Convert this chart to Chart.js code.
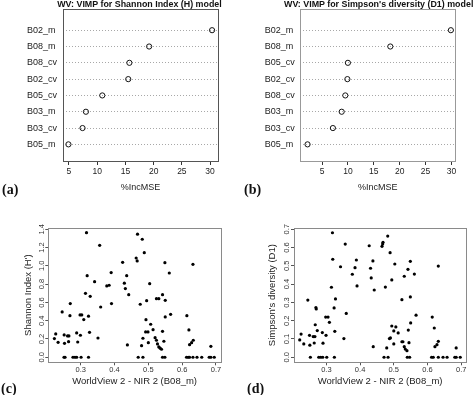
<!DOCTYPE html>
<html>
<head>
<meta charset="utf-8">
<script src="https://cdn.jsdelivr.net/npm/chart.js@4.4.1/dist/chart.umd.min.js"></script>
<style>
  html, body { margin: 0; padding: 0; background: #fff; }
  #wrap { position: relative; width: 474px; height: 395px; overflow: hidden; background: #fff; }
  canvas { position: absolute; }
  .ttl { position: absolute; font: bold 8.9px "Liberation Sans", Arial, sans-serif; color: #111; white-space: nowrap; line-height: 10px; transform: translateX(-50%); }
  .pl { position: absolute; font: bold 14px "Liberation Serif", "Times New Roman", serif; color: #111; line-height: 16px; }
</style>
</head>
<body>
<div id="wrap">
  <canvas id="ca" width="237" height="200" style="left:0;top:0;width:237px;height:200px"></canvas>
  <canvas id="cb" width="237" height="200" style="left:237px;top:0;width:237px;height:200px"></canvas>
  <canvas id="cc" width="237" height="195" style="left:0;top:200px;width:237px;height:195px"></canvas>
  <canvas id="cd" width="237" height="195" style="left:237px;top:200px;width:237px;height:195px"></canvas>
  <div class="ttl" style="left:139.5px;top:-1px">WV: VIMP for Shannon Index (H) model</div>
  <div class="ttl" style="left:378.7px;top:-1px">WV: VIMP for Simpson's diversity (D1) model</div>
  <div class="pl" style="left:2px;top:182px">(a)</div>
  <div class="pl" style="left:244px;top:182px">(b)</div>
  <div class="pl" style="left:1px;top:381px">(c)</div>
  <div class="pl" style="left:247px;top:381px">(d)</div>
</div>
<script>
// ---- Data ----
const varsShannon = ['B02_m','B08_m','B08_cv','B02_cv','B05_cv','B03_m','B03_cv','B05_m'];
const incMSEShannon = [30.35, 19.2, 15.7, 15.5, 10.9, 8.0, 7.4, 4.9];
const varsSimpson = ['B02_m','B08_m','B05_cv','B02_cv','B08_cv','B03_m','B03_cv','B05_m'];
const incMSESimpson = [29.9, 18.2, 10.0, 9.9, 9.5, 8.8, 7.1, 2.2];
const incMSETicks = [5, 10, 15, 20, 25, 30];

const shannonX = [0.317,0.356,0.424,0.319,0.341,0.390,0.436,0.429,0.377,0.384,0.432,0.442,0.314,0.328,0.269,0.391,0.359,0.245,0.268,0.298,0.303,0.323,0.309,0.326,0.226,0.222,0.233,0.251,0.261,0.265,0.252,0.264,0.288,0.299,0.291,0.351,0.438,
  0.2505,0.2535,0.277,0.283,0.288,0.301,0.323,
  0.468,0.482,0.488,0.464,0.467,0.549,0.632,0.562,0.504,0.476,0.495,0.524,0.531,0.542,0.550,0.566,0.550,0.614,0.493,0.507,0.514,0.492,0.499,0.542,0.620,0.520,0.524,0.484,0.480,0.500,0.527,0.531,0.535,0.539,0.546,0.633,0.628,0.622,0.685,
  0.470,0.484,0.542,0.549,0.613,0.618,0.622,0.632,0.644,0.658,0.680,0.685,0.695];
const shannonY = [1.363,1.225,1.039,0.893,0.827,0.926,0.893,0.810,0.780,0.788,0.751,0.685,0.700,0.667,0.587,0.587,0.550,0.496,0.455,0.463,0.463,0.449,0.412,0.273,0.255,0.204,0.164,0.244,0.233,0.233,0.153,0.171,0.266,0.241,0.167,0.211,0.135,
  0,0,0,0,0,0,0,
  1.346,1.291,1.144,1.086,1.054,1.035,1.017,0.922,0.805,0.580,0.619,0.641,0.641,0.685,0.623,0.470,0.441,0.455,0.411,0.361,0.302,0.277,0.277,0.284,0.299,0.214,0.186,0.208,0.127,0.160,0.146,0.113,0.100,0.088,0.175,0.186,0.160,0.138,0.120,
  0,0,0,0,0,0,0,0,0,0,0,0,0];

const simpsonX = [0.318,0.356,0.427,0.319,0.342,0.389,0.385,0.377,0.438,0.431,0.433,0.391,0.442,0.315,0.327,0.245,0.269,0.270,0.323,0.359,0.298,0.305,0.309,0.267,0.273,0.225,0.325,0.288,0.299,0.250,0.261,0.266,0.221,0.233,0.251,0.264,0.290,0.352,0.439,
  0.2525,0.2775,0.2834,0.2893,0.3012,0.3237,
  0.482,0.468,0.467,0.465,0.489,0.549,0.503,0.542,0.632,0.561,0.531,0.494,0.475,0.549,0.524,0.566,0.614,0.550,0.620,0.494,0.506,0.500,0.513,0.543,0.487,0.490,0.500,0.524,0.527,0.545,0.531,0.534,0.539,0.479,0.632,0.628,0.622,0.685,
  0.471,0.483,0.540,0.547,0.612,0.617,0.632,0.646,0.658,0.681,0.685,0.697];
const simpsonY = [0.681,0.619,0.610,0.536,0.495,0.532,0.490,0.454,0.527,0.487,0.434,0.390,0.368,0.383,0.319,0.313,0.272,0.264,0.270,0.240,0.220,0.220,0.191,0.178,0.146,0.127,0.142,0.135,0.120,0.120,0.113,0.113,0.095,0.073,0.066,0.078,0.077,0.102,0.058,
  0,0,0,0,0,0,
  0.663,0.629,0.620,0.607,0.572,0.525,0.510,0.481,0.499,0.455,0.443,0.423,0.384,0.330,0.315,0.230,0.220,0.188,0.160,0.171,0.166,0.144,0.133,0.149,0.102,0.106,0.073,0.085,0.085,0.080,0.058,0.045,0.036,0.051,0.087,0.069,0.058,0.051,
  0,0,0,0,0,0,0,0,0,0,0,0];

// ---- Helpers ----
const FONT = "'Liberation Sans', Arial, Helvetica, sans-serif";
Chart.defaults.font.family = FONT;
Chart.defaults.color = '#222';

const framePlugin = {
  id: 'frame',
  afterDraw(chart, args, opts) {
    const {ctx, chartArea: a} = chart;
    ctx.save();
    ctx.strokeStyle = opts.color || '#777';
    ctx.lineWidth = 1;
    ctx.strokeRect(Math.round(a.left) + 0.5, Math.round(a.top) + 0.5,
                   Math.round(a.right - a.left), Math.round(a.bottom - a.top));
    ctx.restore();
  }
};

function dotChart(id, names, values, xmin, xmax, layout, frameColor) {
  const n = names.length;
  const pts = values.map((v, i) => ({x: v, y: n - i}));
  return new Chart(document.getElementById(id), {
    type: 'scatter',
    data: { datasets: [{ data: pts, pointStyle: 'circle', pointRadius: 2.6,
      pointBorderWidth: 1, pointBorderColor: '#111', pointBackgroundColor: 'rgba(255,255,255,0)' }] },
    plugins: [framePlugin],
    options: {
      responsive: false, animation: false, devicePixelRatio: 1,
      layout: { padding: layout.padding },
      plugins: { legend: {display: false}, tooltip: {enabled: false}, frame: {color: frameColor} },
      scales: {
        x: {
          type: 'linear', min: xmin, max: xmax,
          afterBuildTicks: s => { s.ticks = incMSETicks.map(v => ({value: v})); },
          afterFit: s => { s.height = layout.xh; },
          border: {display: false},
          grid: {drawOnChartArea: false, drawTicks: true, tickLength: 4, tickColor: '#333'},
          ticks: {font: {size: 8.5}, padding: 2, color: '#222', maxRotation: 0, autoSkip: false},
          title: {display: true, text: '%IncMSE', font: {size: 9}, padding: {top: 0, bottom: 6.6}, color: '#222'}
        },
        y: {
          type: 'linear', min: -0.02, max: 9.3,
          afterBuildTicks: s => { s.ticks = names.map((_, i) => ({value: n - i})); },
          afterFit: s => { s.width = layout.yw; },
          border: {display: false, dash: [1, 2]},
          grid: {drawOnChartArea: true, drawTicks: false, color: '#a8a8a8', lineWidth: 1, borderDash: [1, 2]},
          ticks: {font: {size: 9}, crossAlign: 'far', padding: 0, color: '#222', autoSkip: false,
                  callback: v => names[n - v]}
        }
      }
    }
  });
}

function scatterChart(id, xs, ys, ymin, ymax, ystep, ytitle, layout) {
  const pts = xs.map((x, i) => ({x: x, y: ys[i]}));
  return new Chart(document.getElementById(id), {
    type: 'scatter',
    data: { datasets: [{ data: pts, pointRadius: 1.6, pointBorderWidth: 0,
      pointBackgroundColor: '#000', pointBorderColor: '#000' }] },
    plugins: [framePlugin],
    options: {
      responsive: false, animation: false, devicePixelRatio: 1,
      layout: { padding: layout.padding },
      plugins: { legend: {display: false}, tooltip: {enabled: false}, frame: {color: '#8a8a8a'} },
      scales: {
        x: {
          type: 'linear', min: 0.204, max: 0.715,
          ticks: {stepSize: 0.1, includeBounds: false, font: {size: 7.5}, padding: 0.5, color: '#333',
                  maxRotation: 0, callback: v => v.toFixed(1)},
          afterFit: s => { s.height = layout.xh; },
          border: {display: false},
          grid: {drawOnChartArea: false, drawTicks: true, tickLength: 3, tickColor: '#555'},
          title: {display: true, text: 'WorldView 2 - NIR 2 (B08_m)', font: {size: 9.5}, padding: {top: 0, bottom: 7.6}, color: '#222'}
        },
        y: {
          type: 'linear', min: ymin, max: ymax,
          ticks: {stepSize: ystep, includeBounds: false, font: {size: 7.5}, color: '#333',
                  minRotation: 90, maxRotation: 90, crossAlign: 'center', padding: layout.ypad,
                  callback: v => v.toFixed(1)},
          afterFit: s => { s.width = layout.yw; },
          border: {display: false},
          grid: {drawOnChartArea: false, drawTicks: true, tickLength: 3, tickColor: '#555'},
          title: {display: true, text: ytitle, font: {size: 9.5}, padding: {top: 2.3, bottom: 0}, color: '#222'}
        }
      }
    }
  });
}

dotChart('ca', varsShannon, incMSEShannon, 3.94, 31.4,
  {padding: {left: 27, right: 19, top: 9, bottom: 0}, yw: 36, xh: 39}, '#555');
dotChart('cb', varsSimpson, incMSESimpson, 0.8, 30.7,
  {padding: {left: 27.7, right: 19, top: 9, bottom: 0}, yw: 35.6, xh: 39}, '#999');

scatterChart('cc', shannonX, shannonY, -0.055, 1.414, 0.2, "Shannon Index (H')",
  {padding: {left: 20, right: 16, top: 28, bottom: 0}, yw: 28.3, xh: 32.7, ypad: -1.6});
scatterChart('cd', simpsonX, simpsonY, -0.0275, 0.707, 0.1, "Simpson's diversity (D1)",
  {padding: {left: 27, right: 7.7, top: 28, bottom: 0}, yw: 30, xh: 32.7, ypad: -1.2});
</script>
</body>
</html>
